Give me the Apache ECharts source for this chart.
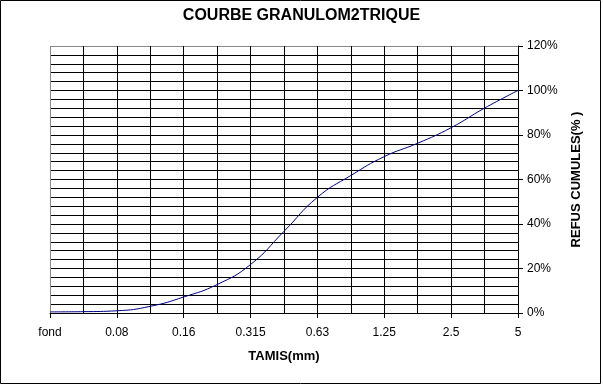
<!DOCTYPE html>
<html>
<head>
<meta charset="utf-8">
<script src="https://cdn.jsdelivr.net/npm/echarts@6/dist/echarts.min.js"></script>
<style>
html,body{margin:0;padding:0;background:#fff;}
#c{width:603px;height:385px;}
</style>
</head>
<body>
<div id="c"></div>
<script>
// Sieve categories (unlabelled intermediate positions are empty strings)
var categories = ['fond', '', '0.08', '', '0.16', '', '0.315', '', '0.63', '', '1.25', '', '2.5', '', '5'];
// Cumulative retained (fraction)
var refusCumules = [0.005, 0.006, 0.010, 0.030, 0.072, 0.128, 0.218, 0.367, 0.520, 0.618, 0.703, 0.763, 0.833, 0.921, 1.0];
var yTicks = [0, 0.2, 0.4, 0.6, 0.8, 1.0, 1.2];

var chart = echarts.init(document.getElementById('c'), null, {renderer: 'canvas'});
var font = 'Arial, "Liberation Sans", sans-serif';
chart.setOption({
  animation: false,
  backgroundColor: '#fff',
  title: {
    text: 'COURBE GRANULOM2TRIQUE',
    left: 'center',
    top: 3,
    textStyle: {fontFamily: font, fontSize: 16, fontWeight: 'bold', color: '#000'}
  },
  graphic: [{
    type: 'rect',
    shape: {x: 0.5, y: 0.5, width: 600, height: 383},
    style: {fill: 'none', stroke: '#000', lineWidth: 1},
    silent: true
  }],
  grid: {left: 50, right: 85, top: 46, bottom: 72, containLabel: false},
  xAxis: {
    type: 'category',
    data: categories,
    boundaryGap: false,
    name: 'TAMIS(mm)',
    nameLocation: 'middle',
    nameGap: 37,
    nameTextStyle: {fontFamily: font, fontSize: 13, fontWeight: 'bold', color: '#000'},
    axisLine: {lineStyle: {color: '#000', width: 1}},
    axisTick: {show: true, interval: 1, length: 5, lineStyle: {color: '#000'}},
    axisLabel: {interval: 1, margin: 14, fontFamily: font, fontSize: 12, color: '#000'},
    splitLine: {show: true, interval: 0, lineStyle: {color: ['#888', '#000', '#000', '#000', '#000', '#000', '#000', '#000', '#000', '#000', '#000', '#000', '#000', '#000', '#000'], width: 1}}
  },
  yAxis: {
    type: 'value',
    position: 'right',
    min: 0,
    max: 1.2,
    interval: 0.2,
    name: 'REFUS CUMULES(% )',
    nameLocation: 'middle',
    nameRotate: 90,
    nameGap: 52,
    nameTextStyle: {fontFamily: font, fontSize: 13, fontWeight: 'bold', color: '#000'},
    axisLine: {show: true, lineStyle: {color: '#000', width: 1}},
    axisTick: {show: true, length: 5, lineStyle: {color: '#000'}},
    axisLabel: {
      margin: 9,
      fontFamily: font, fontSize: 12, color: '#000',
      formatter: function (v) { return Math.round(v * 100) + '%'; }
    },
    splitLine: {show: true, lineStyle: {color: ['#000', '#000', '#000', '#000', '#000', '#000', '#888'], width: 1}},
    minorTick: {show: false, splitNumber: 5},
    minorSplitLine: {show: true, lineStyle: {color: '#000', width: 1}}
  },
  series: [{
    type: 'line',
    data: refusCumules,
    smooth: true,
    showSymbol: false,
    symbol: 'none',
    lineStyle: {color: '#000080', width: 1},
    itemStyle: {color: '#000080'}
  }]
});
</script>
</body>
</html>
